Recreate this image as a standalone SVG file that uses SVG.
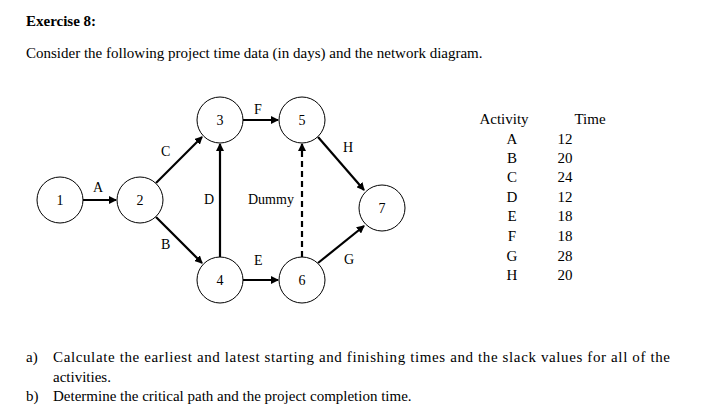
<svg xmlns="http://www.w3.org/2000/svg" width="712" height="417" viewBox="0 0 712 417">
<style>
text{font-family:"Liberation Serif",serif;font-size:14px;fill:#000}
.big{font-size:15px}
.bold{font-weight:bold}
.n circle{fill:#fff;stroke:#000;stroke-width:1}
.n text{font-size:14px;text-anchor:middle}
.e line{stroke:#000;stroke-width:2.2}
.c{text-anchor:middle}
</style>
<defs><marker id="ah" markerWidth="8" markerHeight="8" refX="7" refY="4" orient="auto" markerUnits="userSpaceOnUse"><path d="M0,0L8,4L0,8z" fill="#000"/></marker></defs>
<rect width="712" height="417" fill="#fff"/>
<text x="26" y="26" class="big bold">Exercise 8:</text>
<text x="26" y="58" class="big">Consider the following project time data (in days) and the network diagram.</text>
<g class="e">
<line x1="83" y1="200" x2="116" y2="200" marker-end="url(#ah)"/>
<line x1="156" y1="183" x2="202" y2="137" marker-end="url(#ah)"/>
<line x1="156" y1="217" x2="202" y2="263" marker-end="url(#ah)"/>
<line x1="220" y1="257" x2="220" y2="144" marker-end="url(#ah)"/>
<line x1="243" y1="120" x2="278" y2="120" marker-end="url(#ah)"/>
<line x1="243" y1="280" x2="278" y2="280" marker-end="url(#ah)"/>
<line x1="302" y1="257" x2="302" y2="144" stroke-dasharray="6,4" marker-end="url(#ah)"/>
<line x1="318" y1="137" x2="364" y2="190" marker-end="url(#ah)"/>
<line x1="318" y1="263" x2="364" y2="226" marker-end="url(#ah)"/>
</g>
<g>
<text x="93" y="192">A</text><text x="161" y="156">C</text><text x="161" y="249">B</text>
<text x="204" y="204">D</text><text x="248" y="204">Dummy</text><text x="254" y="114">F</text>
<text x="254" y="265">E</text><text x="343" y="152">H</text><text x="344" y="264">G</text>
</g>
<g class="n" id="n1"><circle cx="60" cy="200" r="23"/><text x="60" y="205">1</text></g>
<g class="n" id="n2"><circle cx="140" cy="200" r="23"/><text x="140" y="205">2</text></g>
<g class="n" id="n3"><circle cx="220" cy="120" r="23"/><text x="220" y="125">3</text></g>
<g class="n" id="n4"><circle cx="220" cy="280" r="23"/><text x="220" y="285">4</text></g>
<g class="n" id="n5"><circle cx="302" cy="120" r="23"/><text x="302" y="125">5</text></g>
<g class="n" id="n6"><circle cx="302" cy="280" r="23"/><text x="302" y="285">6</text></g>
<g class="n" id="n7"><circle cx="382" cy="208" r="23"/><text x="382" y="213">7</text></g>
<g class="c">
<text x="504" y="124" class="big">Activity</text><text x="590" y="124" class="big">Time</text>
<text x="512" y="144" class="big">A</text><text x="565" y="144" class="big">12</text>
<text x="512" y="163" class="big">B</text><text x="565" y="163" class="big">20</text>
<text x="512" y="182" class="big">C</text><text x="565" y="182" class="big">24</text>
<text x="512" y="202" class="big">D</text><text x="565" y="202" class="big">12</text>
<text x="512" y="221" class="big">E</text><text x="565" y="221" class="big">18</text>
<text x="512" y="241" class="big">F</text><text x="565" y="241" class="big">18</text>
<text x="512" y="261" class="big">G</text><text x="565" y="261" class="big">28</text>
<text x="512" y="280" class="big">H</text><text x="565" y="280" class="big">20</text>
</g>
<text x="26" y="362" class="big">a)</text>
<text x="53" y="362" class="big" textLength="617" lengthAdjust="spacing">Calculate the earliest and latest starting and finishing times and the slack values for all of the</text>
<text x="53" y="382" class="big">activities.</text>
<text x="26" y="401" class="big">b)</text>
<text x="53" y="401" class="big">Determine the critical path and the project completion time.</text>
</svg>
